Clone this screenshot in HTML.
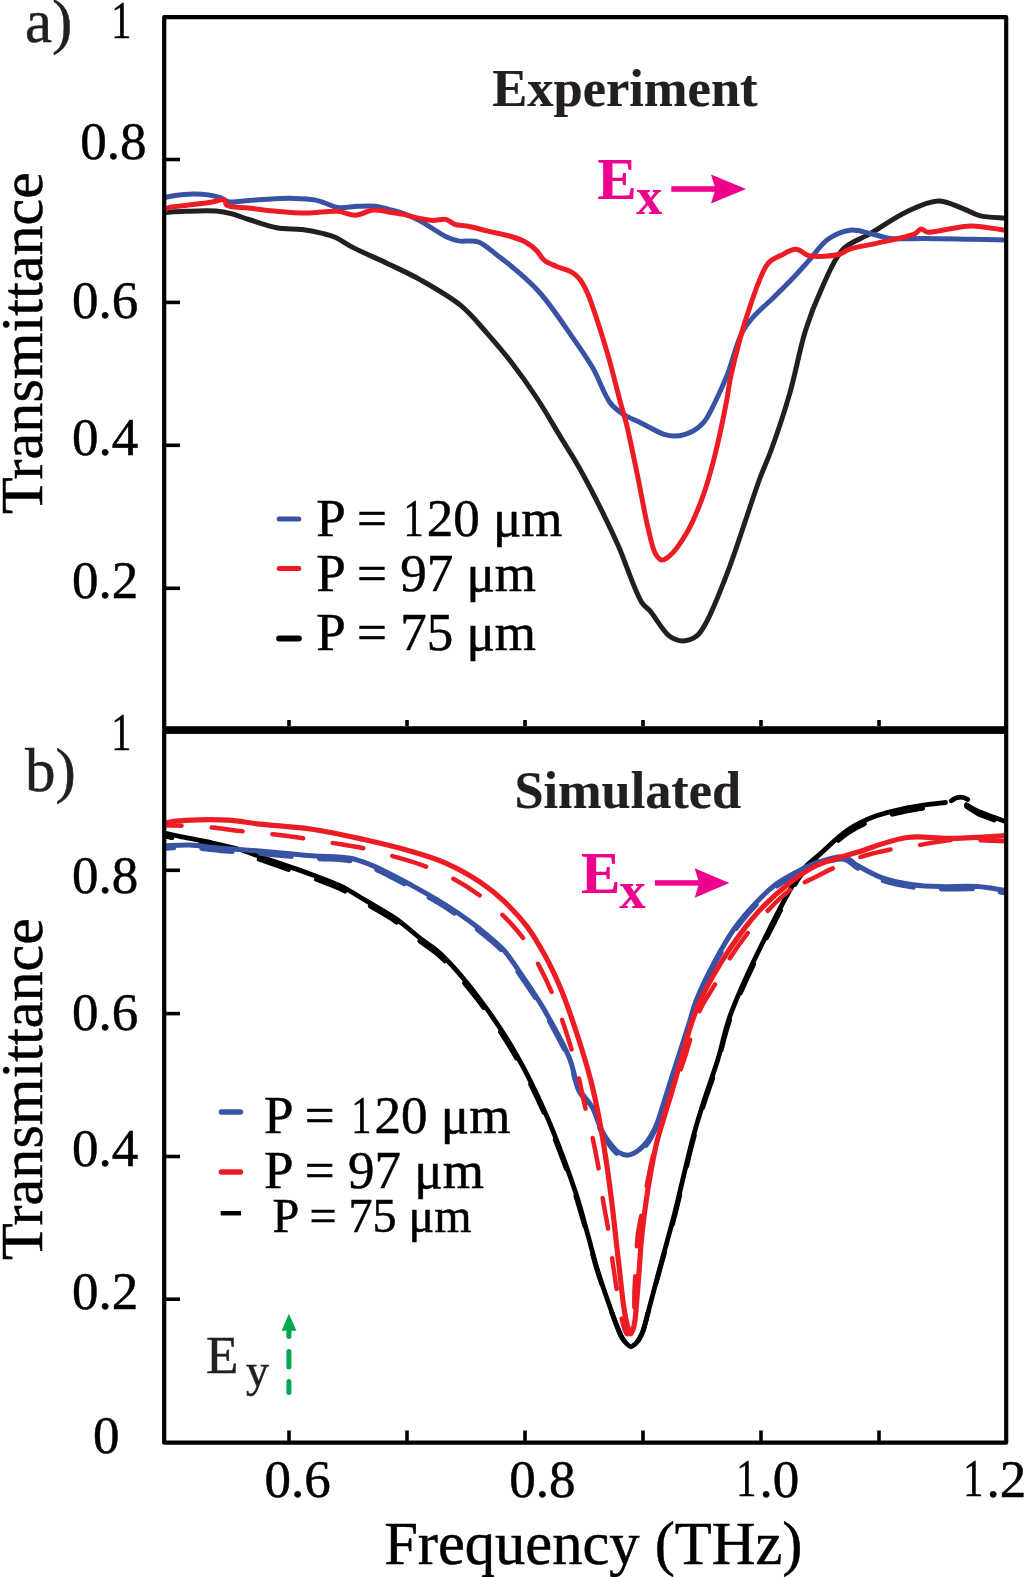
<!DOCTYPE html>
<html><head><meta charset="utf-8"><style>
html,body{margin:0;padding:0;background:#fff;}
body{width:1025px;height:1577px;overflow:hidden;font-family:"Liberation Serif", serif;}
svg{display:block;will-change:transform;}
</style></head><body>
<svg width="1025" height="1577" viewBox="0 0 1025 1577">
<defs>
<clipPath id="ca"><rect x="164" y="17" width="842" height="712"/></clipPath>
<clipPath id="cb"><rect x="164" y="730" width="842" height="712"/></clipPath>
</defs>
<g clip-path="url(#ca)">
<path d="M160.0,212.8 C168.5,212.3 176.5,211.6 185.4,211.3 C195.1,211.0 207.4,210.4 215.8,211.1 C221.8,211.6 225.8,212.3 231.0,213.6 C236.8,215.0 242.2,217.4 248.8,219.5 C257.0,222.1 267.5,226.1 276.7,227.8 C285.3,229.4 294.1,228.6 302.1,229.6 C309.3,230.5 316.5,232.0 322.4,233.4 C327.1,234.6 330.6,235.3 335.0,237.2 C340.6,239.6 345.8,243.8 352.8,247.4 C362.5,252.4 376.8,258.4 388.3,263.9 C399.2,269.1 408.9,273.4 420.0,279.6 C432.9,286.9 449.2,296.0 460.7,305.4 C470.8,313.7 477.8,322.8 486.1,332.1 C494.7,341.8 503.2,351.8 511.5,362.5 C520.2,373.7 528.8,385.8 536.8,398.0 C544.9,410.3 552.6,423.9 560.0,436.1 C566.8,447.3 572.8,456.3 579.5,468.3 C587.6,482.8 597.9,502.8 604.9,517.1 C610.3,528.0 613.5,534.9 618.5,546.3 C625.4,562.0 635.4,593.0 642.0,602.9 C644.8,607.1 646.8,607.2 649.8,610.7 C655.0,616.6 662.7,631.2 669.3,636.1 C673.8,639.4 678.4,641.0 682.9,641.0 C687.5,641.0 692.8,639.0 696.6,636.1 C700.7,633.0 702.8,628.7 706.3,622.4 C712.6,611.1 720.3,591.3 727.8,571.7 C737.9,545.4 751.8,500.0 760.0,478.0 C764.5,465.9 767.2,461.1 771.2,450.0 C776.9,434.4 784.3,412.5 789.9,392.9 C795.7,372.7 799.7,348.9 805.5,330.5 C810.3,315.4 815.0,303.2 821.1,289.9 C827.4,276.2 833.7,258.8 843.0,249.3 C850.6,241.5 860.2,239.5 869.8,233.9 C881.1,227.3 894.3,217.6 906.3,212.0 C917.0,207.0 928.1,201.2 938.0,201.0 C946.6,200.8 955.1,205.6 962.4,208.3 C968.7,210.6 972.8,213.9 979.5,215.6 C988.1,217.8 999.8,217.5 1010.0,218.5" fill="none" stroke="#231f20" stroke-width="5" stroke-linejoin="round" stroke-linecap="round"/>
<path d="M160.0,198.5 C165.1,197.5 169.9,196.1 175.2,195.4 C180.9,194.6 187.3,194.2 193.0,194.1 C198.3,194.0 203.4,194.2 208.2,194.9 C212.7,195.5 217.3,196.6 220.9,197.9 C223.8,199.0 225.2,201.0 228.5,201.7 C233.5,202.7 241.7,200.9 248.8,200.4 C256.8,199.9 266.2,199.0 274.2,198.7 C281.3,198.4 287.7,198.2 294.4,198.4 C301.2,198.6 309.1,198.9 314.7,199.9 C318.7,200.7 321.3,201.8 324.9,203.0 C328.9,204.3 332.8,206.8 337.6,207.5 C343.5,208.3 351.4,206.5 357.9,206.3 C364.0,206.1 370.2,205.7 375.6,206.3 C380.2,206.8 383.9,208.2 388.3,209.3 C393.2,210.5 398.4,211.7 403.5,213.5 C408.8,215.4 413.6,217.5 419.5,220.6 C427.5,224.8 439.4,233.6 446.8,237.0 C451.4,239.1 454.0,240.1 458.5,240.9 C464.1,241.9 471.8,239.7 478.0,241.8 C484.9,244.1 491.2,250.7 497.6,255.5 C504.2,260.4 510.4,265.3 517.1,271.1 C524.7,277.7 532.5,284.4 540.5,293.5 C550.8,305.3 563.1,323.8 572.4,337.1 C580.0,348.1 586.4,356.9 592.6,367.6 C599.1,378.8 604.2,395.1 610.4,403.1 C614.3,408.2 617.7,410.5 622.4,413.7 C627.9,417.4 635.3,420.1 642.0,423.4 C649.0,426.9 657.2,432.1 663.4,434.1 C667.8,435.5 670.8,436.3 675.1,436.1 C680.4,435.8 687.7,433.8 692.7,431.2 C697.3,428.8 700.9,425.8 704.4,421.5 C708.9,416.0 712.4,407.6 716.1,400.0 C720.1,391.9 723.7,383.9 727.5,374.2 C732.2,362.3 736.4,343.7 741.5,333.6 C744.9,326.9 747.8,323.4 752.4,318.0 C758.2,311.2 767.3,303.7 774.3,296.8 C780.8,290.4 787.1,284.2 793.0,278.0 C798.6,272.2 803.3,266.8 808.8,260.7 C815.0,253.9 820.9,244.1 828.3,239.0 C834.9,234.4 842.9,231.0 850.2,230.2 C857.1,229.4 864.4,232.3 871.1,233.7 C877.5,235.0 882.6,237.5 889.8,238.4 C899.5,239.6 911.9,238.3 924.2,238.4 C938.6,238.5 956.1,239.0 971.0,239.3 C984.6,239.6 997.0,239.8 1010.0,240.0" fill="none" stroke="#3953a4" stroke-width="5" stroke-linejoin="round" stroke-linecap="round"/>
<path d="M164.0,212.0 C165.2,210.7 165.7,209.0 167.6,208.0 C171.1,206.1 178.9,206.4 185.4,205.5 C193.1,204.5 203.5,203.3 210.7,202.2 C216.1,201.4 222.3,198.5 224.7,199.9 C226.2,200.8 224.9,203.7 226.5,205.0 C229.8,207.7 241.1,207.0 248.8,208.0 C257.0,209.1 265.2,210.3 274.2,211.1 C284.4,212.0 296.3,213.1 307.1,213.1 C317.5,213.1 328.8,210.6 337.6,211.3 C344.3,211.8 349.4,215.4 355.3,215.2 C361.2,215.0 367.4,210.6 373.1,210.1 C378.3,209.7 383.2,211.2 388.3,211.9 C393.4,212.6 398.4,213.3 403.5,214.4 C408.8,215.5 414.3,217.4 419.5,218.4 C424.2,219.3 428.7,220.3 433.2,220.4 C437.5,220.5 442.2,218.6 445.9,219.4 C449.2,220.1 451.2,223.2 454.6,224.3 C458.5,225.6 463.4,225.2 468.3,226.2 C474.3,227.4 481.1,229.5 487.8,231.1 C494.8,232.8 502.8,234.0 509.3,236.0 C515.0,237.7 520.2,239.3 524.9,241.8 C529.3,244.2 533.3,247.4 536.6,250.6 C539.7,253.6 541.2,257.8 544.4,260.4 C547.7,263.0 551.9,264.4 556.1,266.2 C560.9,268.3 567.6,269.6 571.7,272.1 C575.0,274.1 577.1,276.0 579.5,278.9 C582.4,282.5 585.1,287.9 587.3,292.6 C589.4,297.2 590.5,300.6 592.6,306.7 C596.5,317.9 603.2,338.8 607.9,354.9 C612.5,370.9 617.2,390.5 620.6,403.1 C622.8,411.3 624.2,415.0 626.3,423.4 C629.7,437.1 634.3,460.3 638.0,478.0 C641.5,494.7 644.4,512.9 647.8,526.8 C650.3,537.3 652.3,548.5 655.6,554.1 C657.4,557.1 659.2,559.6 661.5,560.0 C663.8,560.4 666.5,558.4 669.3,556.1 C674.4,551.8 681.6,541.6 686.8,532.7 C692.8,522.5 697.9,509.8 702.4,497.6 C707.0,485.1 710.4,472.9 714.1,458.5 C718.6,441.0 723.9,415.0 726.8,400.0 C728.6,390.7 728.5,386.8 730.6,377.3 C734.3,360.5 742.3,328.9 749.3,308.6 C755.1,291.8 761.0,271.8 768.1,263.4 C772.0,258.8 776.0,257.9 780.5,255.6 C785.3,253.1 791.3,249.1 796.2,249.3 C800.6,249.5 804.1,254.4 808.6,255.6 C813.4,256.8 819.1,256.5 824.3,256.2 C829.5,255.9 835.5,255.4 839.9,254.0 C843.5,252.9 845.1,250.7 849.2,249.3 C855.9,246.9 867.3,245.5 877.3,243.1 C888.9,240.4 907.7,237.1 914.8,233.7 C918.0,232.2 918.9,229.2 921.0,229.0 C923.0,228.8 924.5,231.7 927.3,232.1 C932.3,232.9 941.8,230.0 949.1,229.0 C956.4,228.0 962.7,225.9 971.0,225.9 C982.1,225.8 997.0,229.3 1010.0,231.0" fill="none" stroke="#ed1c24" stroke-width="5" stroke-linejoin="round" stroke-linecap="round"/>
</g>
<g clip-path="url(#cb)">
<path d="M160.0,832.0 C166.5,833.4 172.3,834.8 179.5,836.3 C188.3,838.1 199.1,840.1 208.8,842.2 C218.6,844.3 228.9,846.4 238.0,849.0 C246.3,851.4 252.2,853.9 261.5,857.1 C275.2,861.9 297.9,869.5 312.2,874.8 C322.9,878.8 330.9,881.3 340.0,885.7 C349.3,890.2 358.2,896.1 367.3,901.4 C376.4,906.8 385.7,911.6 394.6,917.8 C403.9,924.3 413.8,933.3 422.0,939.7 C428.6,944.8 433.3,947.0 440.0,953.3 C450.8,963.4 465.9,981.1 478.1,997.1 C491.4,1014.5 504.9,1034.8 516.1,1054.2 C526.9,1072.9 536.4,1092.9 544.6,1111.2 C552.0,1127.6 558.1,1143.8 563.7,1158.8 C568.7,1172.1 572.9,1183.9 577.0,1196.8 C581.2,1209.9 584.8,1224.1 588.4,1236.8 C591.6,1248.4 593.9,1258.3 597.5,1270.0 C601.6,1283.4 608.1,1301.7 612.0,1312.7 C614.5,1319.8 616.5,1325.3 618.5,1330.0 C619.9,1333.4 621.0,1336.1 622.5,1338.5 C623.7,1340.5 625.0,1342.1 626.5,1343.5 C627.9,1344.8 629.5,1346.8 631.0,1346.8 C632.5,1346.8 634.1,1345.0 635.5,1343.7 C637.0,1342.3 638.3,1340.5 639.5,1338.5 C640.8,1336.3 641.9,1334.1 643.0,1331.0 C644.7,1326.3 645.9,1320.4 648.0,1312.7 C651.5,1299.7 657.5,1276.7 662.0,1260.0 C666.1,1244.8 670.1,1230.9 673.8,1216.6 C677.4,1202.8 680.4,1189.3 683.7,1175.6 C687.0,1161.9 690.2,1147.6 693.8,1134.6 C697.1,1122.7 700.3,1112.3 704.1,1100.5 C708.2,1087.5 713.4,1073.9 717.7,1060.0 C722.2,1045.4 724.3,1031.6 730.5,1014.7 C738.9,991.6 753.9,960.1 766.4,935.2 C778.0,912.2 791.6,884.2 802.5,870.3 C808.7,862.4 813.4,860.0 820.0,854.1 C828.1,846.8 838.1,836.5 847.8,830.0 C856.7,824.0 866.1,819.7 875.6,816.1 C884.7,812.7 894.1,810.7 903.4,808.7 C912.6,806.7 923.4,805.2 931.2,804.1 C936.7,803.3 940.7,803.0 945.5,802.5" fill="none" stroke="#000" stroke-width="4.8" stroke-linejoin="round" stroke-linecap="round"/>
<path d="M966.5,804.8 C970.3,807.0 973.7,809.3 978.0,811.3 C982.9,813.6 989.0,815.4 994.6,817.5 C1000.3,819.6 1006.2,821.8 1012.0,824.0" fill="none" stroke="#000" stroke-width="4.8" stroke-linejoin="round" stroke-linecap="round"/>
<path d="M951.2,800.8 Q959.8,794.2 967.8,799.5" fill="none" stroke="#000" stroke-width="4.8" stroke-linecap="round"/>
<path d="M966.5,806.5 L978.5,814 L994.2,820" fill="none" stroke="#000" stroke-width="4.8" stroke-linecap="round"/>
<path d="M160.0,835.0 C166.5,836.4 172.3,837.8 179.5,839.3 C188.3,841.1 199.1,843.1 208.8,845.2 C218.6,847.3 228.9,849.4 238.0,852.0 C246.3,854.4 252.2,856.9 261.5,860.1 C275.2,864.9 297.9,872.5 312.2,877.8 C322.9,881.8 330.9,884.3 340.0,888.7 C349.3,893.2 358.2,899.1 367.3,904.4 C376.4,909.8 385.7,914.6 394.6,920.8 C403.9,927.3 413.8,936.3 422.0,942.7 C428.6,947.8 433.3,950.0 440.0,956.3" fill="none" stroke="#000" stroke-width="4.8" stroke-linecap="round" stroke-dasharray="31 29.5" stroke-dashoffset="18.7"/>
<path d="M440.0,956.3 C450.8,966.4 465.9,984.1 478.1,1000.1 C491.4,1017.5 504.9,1037.8 516.1,1057.2 C526.9,1075.9 536.4,1095.9 544.6,1114.2 C552.0,1130.6 558.1,1146.8 563.7,1161.8 C568.7,1175.1 572.9,1187.0 577.0,1199.8 C581.1,1212.7 584.8,1226.5 588.4,1239.0 C591.6,1250.3 593.9,1260.0 597.5,1271.4 C601.6,1284.5 608.1,1302.3 612.0,1313.1 C614.5,1320.0 616.5,1325.4 618.5,1330.0 C619.9,1333.3 621.0,1336.1 622.5,1338.5 C623.7,1340.5 625.0,1342.1 626.5,1343.5 C627.9,1344.8 629.5,1346.8 631.0,1346.8" fill="none" stroke="#000" stroke-width="4.8" stroke-linecap="round" stroke-dasharray="31 29.5" stroke-dashoffset="24.1"/>
<path d="M631.0,1346.8 C632.5,1346.8 634.1,1345.0 635.5,1343.7 C637.0,1342.3 638.3,1340.5 639.5,1338.5 C640.8,1336.3 641.9,1334.1 643.0,1331.0 C644.7,1326.4 645.9,1320.6 648.0,1313.1 C651.5,1300.4 657.5,1277.9 662.0,1261.6 C666.1,1246.8 670.1,1233.2 673.8,1219.2 C677.4,1205.6 680.4,1192.2 683.7,1178.6 C687.0,1165.0 690.2,1150.6 693.8,1137.6 C697.1,1125.7 700.3,1115.3 704.1,1103.5 C708.2,1090.5 713.4,1076.9 717.7,1063.0 C722.2,1048.4 724.3,1034.6 730.5,1017.7 C738.9,994.6 753.9,963.1 766.4,938.2 C778.0,915.2 791.6,887.2 802.5,873.3" fill="none" stroke="#000" stroke-width="4.8" stroke-linecap="round" stroke-dasharray="31 29.5" stroke-dashoffset="50.7"/>
<path d="M802.5,873.3 C808.7,865.4 813.4,863.0 820.0,857.1 C828.1,849.8 838.1,839.5 847.8,833.0 C856.7,827.0 866.1,822.7 875.6,819.1 C884.7,815.7 894.1,813.7 903.4,811.7 C912.6,809.7 923.4,808.2 931.2,807.1 C936.7,806.3 940.7,806.0 945.5,805.5" fill="none" stroke="#000" stroke-width="4.8" stroke-linecap="round" stroke-dasharray="31 29.5" stroke-dashoffset="11.8"/>
<path d="M160.0,848.6 C169.8,848.3 179.6,847.3 189.3,847.6 C199.1,847.9 207.9,849.6 218.5,850.5 C231.1,851.6 245.4,852.3 260.0,853.5 C276.4,854.8 296.2,857.0 312.2,858.3 C325.9,859.4 339.7,858.8 350.3,860.8 C358.2,862.3 364.1,864.8 370.6,867.3 C376.8,869.7 382.3,872.5 388.3,875.5 C394.8,878.7 401.1,882.1 408.3,886.0 C416.7,890.6 427.1,896.2 435.6,901.3" fill="none" stroke="#3953a4" stroke-width="4.8" stroke-linecap="round" stroke-dasharray="31 28" stroke-dashoffset="17.2"/>
<path d="M435.6,901.3 C443.2,905.8 449.6,909.9 456.8,914.8 C464.5,920.0 472.5,925.7 480.2,931.8 C488.2,938.2 496.9,945.1 503.7,952.5 C510.0,959.5 514.4,966.8 519.9,974.8 C526.1,983.7 533.0,993.9 538.9,1003.4 C544.4,1012.3 549.2,1020.8 554.2,1030.0 C559.4,1039.7 565.2,1050.2 569.4,1060.5 C573.4,1070.5 574.6,1082.2 578.9,1090.9 C582.5,1098.3 588.4,1103.1 592.2,1109.9 C596.1,1117.0 598.5,1126.5 601.7,1132.8 C604.1,1137.5 606.2,1140.8 609.0,1144.5 C611.8,1148.2 615.1,1152.7 618.7,1154.9 C621.7,1156.7 625.1,1157.9 628.3,1157.6" fill="none" stroke="#3953a4" stroke-width="4.8" stroke-linecap="round" stroke-dasharray="31 28" stroke-dashoffset="8.7"/>
<path d="M628.3,1157.6 C631.9,1157.3 636.0,1154.6 639.2,1152.2 C642.4,1149.9 644.9,1147.0 647.5,1143.5 C650.7,1139.2 653.8,1133.3 656.3,1127.6 C659.0,1121.5 660.4,1115.4 662.9,1107.8 C666.2,1097.5 670.3,1084.3 674.4,1071.5 C679.0,1057.0 685.2,1038.1 689.2,1025.4 C692.0,1016.4 693.1,1010.9 696.4,1002.5 C700.8,991.4 707.8,977.1 714.2,965.0 C720.5,953.2 727.4,941.0 734.6,930.8 C741.1,921.6 748.0,913.7 755.1,906.2 C761.7,899.2 768.5,892.5 775.6,887.1 C782.2,882.1 789.2,878.5 796.1,874.8 C802.8,871.2 809.1,867.7 816.6,865.2 C824.9,862.4 836.8,858.1 844.1,859.4 C849.5,860.4 851.9,864.9 857.1,867.8 C864.2,871.8 873.9,877.5 883.0,880.7 C892.4,884.0 902.9,885.8 912.7,887.2 C922.1,888.5 930.6,888.8 940.5,889.1 C952.0,889.5 965.7,888.3 977.6,889.1 C988.8,889.9 999.2,892.2 1010.0,893.7" fill="none" stroke="#3953a4" stroke-width="4.8" stroke-linecap="round" stroke-dasharray="31 28" stroke-dashoffset="37.0"/>
<path d="M160.0,846.1 C169.8,845.8 179.6,844.8 189.3,845.1 C199.1,845.4 207.9,847.1 218.5,848.0 C231.1,849.1 245.4,849.8 260.0,851.0 C276.4,852.3 296.2,854.5 312.2,855.8 C325.9,856.9 339.7,856.3 350.3,858.3 C358.2,859.8 364.1,862.3 370.6,864.8 C376.8,867.2 382.3,870.0 388.3,873.0 C394.8,876.2 401.1,879.6 408.3,883.5 C416.7,888.1 427.1,893.7 435.6,898.8 C443.2,903.3 449.6,907.4 456.8,912.3 C464.5,917.5 472.5,923.2 480.2,929.3 C488.2,935.7 496.9,942.6 503.7,950.0 C510.0,957.0 514.4,964.3 519.9,972.3 C526.1,981.2 533.0,991.4 538.9,1000.9 C544.4,1009.8 549.2,1018.3 554.2,1027.5 C559.4,1037.2 565.2,1047.7 569.4,1058.0 C573.4,1068.0 574.6,1079.7 578.9,1088.4 C582.5,1095.8 588.4,1100.6 592.2,1107.4 C596.1,1114.5 598.5,1124.0 601.7,1130.3 C604.1,1135.0 606.2,1138.3 609.0,1142.0 C611.8,1145.7 615.1,1150.2 618.7,1152.4 C621.7,1154.2 625.1,1155.4 628.3,1155.1 C631.9,1154.8 636.0,1152.1 639.2,1149.7 C642.4,1147.4 644.9,1144.5 647.5,1141.0 C650.7,1136.7 653.8,1130.8 656.3,1125.1 C659.0,1119.0 660.4,1112.9 662.9,1105.3 C666.2,1095.0 670.3,1081.8 674.4,1069.0 C679.0,1054.5 685.2,1035.6 689.2,1022.9 C692.0,1013.9 693.1,1008.4 696.4,1000.0 C700.8,988.9 707.8,974.6 714.2,962.5 C720.5,950.7 727.4,938.5 734.6,928.3 C741.1,919.1 748.0,911.2 755.1,903.7 C761.7,896.7 768.5,890.0 775.6,884.6 C782.2,879.6 789.2,876.0 796.1,872.3 C802.8,868.7 809.1,865.2 816.6,862.7 C824.9,859.9 836.8,855.6 844.1,856.9 C849.5,857.9 851.9,862.4 857.1,865.3 C864.2,869.3 873.9,875.0 883.0,878.2 C892.4,881.5 902.9,883.3 912.7,884.7 C922.1,886.0 930.6,886.3 940.5,886.6 C952.0,887.0 965.7,885.8 977.6,886.6 C988.8,887.4 999.2,889.7 1010.0,891.2" fill="none" stroke="#3953a4" stroke-width="5" stroke-linejoin="round" stroke-linecap="round"/>
<path d="M160.0,824.5 C165.2,823.4 169.8,822.0 175.6,821.2 C182.6,820.3 190.8,820.0 199.0,819.8 C208.2,819.6 218.4,819.5 228.3,820.2 C238.7,820.9 248.1,822.8 260.0,824.1 C275.2,825.8 295.0,826.7 312.2,829.2 C329.3,831.7 346.4,835.6 363.0,839.3 C379.0,842.9 395.6,846.8 410.0,851.0 C422.6,854.7 433.6,857.8 445.1,862.8 C457.0,868.0 469.9,875.2 480.2,882.1 C489.1,888.0 496.1,893.8 503.7,900.9 C511.8,908.5 520.1,917.3 527.1,926.6 C534.2,936.0 540.0,946.4 545.8,957.1 C551.8,968.2 557.0,979.5 562.2,992.2 C568.0,1006.5 573.7,1023.9 578.6,1039.0 C583.1,1053.1 587.2,1066.3 590.7,1080.0 C594.2,1093.6 597.0,1107.3 599.6,1121.0 C602.2,1134.6 604.3,1148.3 606.4,1162.0 C608.4,1175.7 610.2,1189.3 611.9,1203.0 C613.6,1216.7 615.1,1231.9 616.5,1244.0 C617.6,1253.7 618.4,1260.7 619.5,1270.0 C620.7,1280.8 622.0,1294.8 623.5,1305.0 C624.7,1312.9 626.0,1320.7 627.5,1326.0 C628.4,1329.3 629.4,1334.0 630.5,1334.0 C631.6,1334.0 633.1,1329.5 634.0,1326.0 C635.6,1319.9 636.0,1309.0 636.8,1300.0 C637.7,1290.4 638.4,1280.0 639.2,1270.0 C640.0,1260.0 640.4,1250.5 641.4,1240.0 C642.5,1228.3 644.2,1215.1 645.9,1203.0 C647.5,1191.4 649.4,1179.5 651.4,1168.8 C653.2,1159.2 654.7,1150.6 657.0,1141.5 C659.3,1132.4 662.1,1123.8 665.0,1114.2 C668.2,1103.4 671.6,1092.8 675.3,1080.0 C680.0,1063.8 686.1,1039.7 691.0,1025.0 C694.3,1015.0 696.3,1009.0 700.5,1000.0 C705.8,988.6 713.9,974.2 721.0,962.5 C727.6,951.7 734.4,941.8 741.5,932.4 C748.1,923.6 754.4,915.7 762.0,907.8 C770.2,899.3 779.9,890.4 789.3,883.2 C798.1,876.4 806.2,870.4 816.6,865.5 C828.5,859.8 842.9,856.7 857.1,852.3 C872.9,847.4 890.9,839.7 907.1,837.5 C921.7,835.5 934.3,838.6 949.7,838.4 C968.1,838.2 989.9,836.5 1010.0,835.5" fill="none" stroke="#ed1c24" stroke-width="5.2" stroke-linejoin="round" stroke-linecap="round"/>
<path d="M150.0,825.0 C158.3,825.2 165.9,825.1 175.0,825.5 C186.1,825.9 199.9,826.5 211.7,827.6 C222.8,828.6 233.4,830.4 243.9,831.5 C253.8,832.6 262.9,833.1 272.9,834.2 C283.6,835.4 295.4,837.0 305.9,838.6 C315.6,840.0 324.2,841.5 333.8,843.1 C344.0,844.8 355.3,846.4 365.5,848.7 C375.1,850.9 383.9,853.5 393.4,856.3 C403.4,859.2 414.2,862.2 424.0,865.8" fill="none" stroke="#ed1c24" stroke-width="4.5" stroke-linecap="round" stroke-dasharray="31 30" stroke-dashoffset="60.2"/>
<path d="M424.0,865.8 C433.4,869.3 442.1,872.8 451.0,877.5 C460.5,882.5 470.5,888.7 479.1,895.0 C487.2,900.9 494.2,906.9 501.3,913.8 C508.7,920.9 516.3,928.9 522.4,937.2 C528.3,945.3 532.8,953.9 537.6,962.9 C542.6,972.2 547.5,982.4 551.7,992.2 C555.7,1001.6 558.9,1010.8 562.2,1020.3 C565.5,1029.9 568.8,1039.9 571.6,1049.6 C574.3,1059.0 576.6,1068.5 578.8,1077.8 C580.9,1086.8 582.4,1095.1 584.6,1104.6 C587.0,1115.3 590.4,1127.5 592.8,1138.7 C595.1,1149.4 597.2,1159.8 598.9,1170.2 C600.6,1180.3 601.4,1190.2 603.0,1200.2 C604.6,1210.4 606.9,1220.7 608.5,1231.0 C610.1,1241.2 611.2,1251.5 612.6,1261.7 C614.1,1272.0 615.6,1282.5 617.2,1292.5 C618.7,1301.9 620.0,1312.4 622.0,1320.0 C623.5,1325.5 624.6,1332.9 627.0,1334.0" fill="none" stroke="#ed1c24" stroke-width="4.5" stroke-linecap="round" stroke-dasharray="31 30" stroke-dashoffset="28.8"/>
<path d="M627.0,1334.0 C628.4,1334.6 630.7,1333.8 632.0,1332.0 C635.7,1326.9 633.8,1302.5 634.5,1290.0 C635.1,1280.0 635.4,1272.1 636.0,1263.0 C636.6,1253.6 636.7,1243.9 637.9,1234.4 C639.1,1224.8 641.3,1216.4 643.3,1205.7 C645.8,1192.2 648.4,1175.5 652.0,1160.0 C655.8,1143.6 660.7,1126.6 666.0,1110.0 C671.4,1093.2 678.3,1076.7 684.0,1060.0 C689.6,1043.4 694.0,1023.4 700.0,1010.0 C704.4,1000.2 709.5,993.9 714.2,985.7 C719.0,977.4 723.3,968.7 728.5,960.4 C733.8,952.0 739.6,943.5 745.6,935.8 C751.4,928.3 757.1,921.8 764.0,914.6 C771.7,906.5 781.5,896.0 790.0,890.0" fill="none" stroke="#ed1c24" stroke-width="4.5" stroke-linecap="round" stroke-dasharray="31 30" stroke-dashoffset="30.3"/>
<path d="M790.0,890.0 C796.7,885.2 802.6,883.4 809.8,879.8 C818.3,875.6 828.4,870.2 837.6,866.2 C846.3,862.4 854.5,858.8 863.6,856.0 C873.0,853.0 883.5,850.9 893.2,849.0 C902.3,847.2 910.9,846.3 920.1,844.9 C929.7,843.4 940.3,840.9 949.7,840.2 C958.1,839.5 965.0,840.0 973.8,840.2 C984.6,840.4 997.9,841.1 1010.0,841.5" fill="none" stroke="#ed1c24" stroke-width="4.5" stroke-linecap="round" stroke-dasharray="31 30" stroke-dashoffset="44.1"/>
</g>
<path d="M164.2,17.2 H1006.2 V1442.7 H164.2 Z" fill="none" stroke="#000" stroke-width="4.2" stroke-linejoin="round"/>
<rect x="164" y="726.2" width="842" height="7.7" fill="#000"/>
<line x1="166" y1="159.5" x2="180" y2="159.5" stroke="#000" stroke-width="3.6"/>
<line x1="166" y1="302.4" x2="180" y2="302.4" stroke="#000" stroke-width="3.6"/>
<line x1="166" y1="445.3" x2="180" y2="445.3" stroke="#000" stroke-width="3.6"/>
<line x1="166" y1="588.3" x2="180" y2="588.3" stroke="#000" stroke-width="3.6"/>
<line x1="166" y1="870.3" x2="180" y2="870.3" stroke="#000" stroke-width="3.6"/>
<line x1="166" y1="1013.6" x2="180" y2="1013.6" stroke="#000" stroke-width="3.6"/>
<line x1="166" y1="1156.5" x2="180" y2="1156.5" stroke="#000" stroke-width="3.6"/>
<line x1="166" y1="1299.2" x2="180" y2="1299.2" stroke="#000" stroke-width="3.6"/>
<line x1="289.0" y1="1441" x2="289.0" y2="1430.5" stroke="#000" stroke-width="3.6"/>
<line x1="289.0" y1="726" x2="289.0" y2="720" stroke="#000" stroke-width="3.6"/>
<line x1="407.0" y1="1441" x2="407.0" y2="1430.5" stroke="#000" stroke-width="3.6"/>
<line x1="407.0" y1="726" x2="407.0" y2="720" stroke="#000" stroke-width="3.6"/>
<line x1="525.0" y1="1441" x2="525.0" y2="1430.5" stroke="#000" stroke-width="3.6"/>
<line x1="525.0" y1="726" x2="525.0" y2="720" stroke="#000" stroke-width="3.6"/>
<line x1="643.0" y1="1441" x2="643.0" y2="1430.5" stroke="#000" stroke-width="3.6"/>
<line x1="643.0" y1="726" x2="643.0" y2="720" stroke="#000" stroke-width="3.6"/>
<line x1="761.0" y1="1441" x2="761.0" y2="1430.5" stroke="#000" stroke-width="3.6"/>
<line x1="761.0" y1="726" x2="761.0" y2="720" stroke="#000" stroke-width="3.6"/>
<line x1="879.0" y1="1441" x2="879.0" y2="1430.5" stroke="#000" stroke-width="3.6"/>
<line x1="879.0" y1="726" x2="879.0" y2="720" stroke="#000" stroke-width="3.6"/>
<text x="108.00" y="38.0" font-family="Liberation Serif" font-size="53" fill="#000" stroke="#000" stroke-width="0.5" transform="matrix(0.76,0,0,1,29.27,0)">1</text>
<text x="80.3" y="159.3" font-family="Liberation Serif" font-size="53" font-weight="normal" fill="#000" stroke="#000" stroke-width="0.5">0.8</text>
<text x="71.9" y="318.3" font-family="Liberation Serif" font-size="53" font-weight="normal" fill="#000" stroke="#000" stroke-width="0.5">0.6</text>
<text x="71.9" y="455.0" font-family="Liberation Serif" font-size="53" font-weight="normal" fill="#000" stroke="#000" stroke-width="0.5">0.4</text>
<text x="71.9" y="598.0" font-family="Liberation Serif" font-size="53" font-weight="normal" fill="#000" stroke="#000" stroke-width="0.5">0.2</text>
<text x="108.00" y="750.0" font-family="Liberation Serif" font-size="53" fill="#000" stroke="#000" stroke-width="0.5" transform="matrix(0.76,0,0,1,29.27,0)">1</text>
<text x="71.9" y="893.0" font-family="Liberation Serif" font-size="53" font-weight="normal" fill="#000" stroke="#000" stroke-width="0.5">0.8</text>
<text x="71.9" y="1030.0" font-family="Liberation Serif" font-size="53" font-weight="normal" fill="#000" stroke="#000" stroke-width="0.5">0.6</text>
<text x="71.9" y="1166.0" font-family="Liberation Serif" font-size="53" font-weight="normal" fill="#000" stroke="#000" stroke-width="0.5">0.4</text>
<text x="71.9" y="1309.0" font-family="Liberation Serif" font-size="53" font-weight="normal" fill="#000" stroke="#000" stroke-width="0.5">0.2</text>
<text x="93.0" y="1452.5" font-family="Liberation Serif" font-size="53" font-weight="normal" fill="#000" stroke="#000" stroke-width="0.5">0</text>
<text x="264.6" y="1496.5" font-family="Liberation Serif" font-size="53" font-weight="normal" fill="#000" stroke="#000" stroke-width="0.5">0.6</text>
<text x="509.2" y="1496.5" font-family="Liberation Serif" font-size="53" font-weight="normal" fill="#000" stroke="#000" stroke-width="0.5">0.8</text>
<text x="733.00" y="1496.5" font-family="Liberation Serif" font-size="53" fill="#000" stroke="#000" stroke-width="0.5" transform="matrix(0.76,0,0,1,179.27,0)">1</text>
<text x="759.50" y="1496.5" font-family="Liberation Serif" font-size="53" fill="#000" stroke="#000" stroke-width="0.5" xml:space="preserve">.0</text>
<text x="960.00" y="1496.5" font-family="Liberation Serif" font-size="53" fill="#000" stroke="#000" stroke-width="0.5" transform="matrix(0.76,0,0,1,233.75,0)">1</text>
<text x="986.50" y="1496.5" font-family="Liberation Serif" font-size="53" fill="#000" stroke="#000" stroke-width="0.5" xml:space="preserve">.2</text>
<text x="384.2" y="1564.0" font-family="Liberation Serif" font-size="60.5" font-weight="normal" fill="#000" stroke="#000" stroke-width="0.5">Frequency (THz)</text>
<text transform="translate(41.9,514.1) rotate(-90)" font-family="Liberation Serif" font-size="60.2" fill="#000" stroke="#000" stroke-width="0.5">Transmittance</text>
<text transform="translate(41.9,1260.1) rotate(-90)" font-family="Liberation Serif" font-size="60.2" fill="#000" stroke="#000" stroke-width="0.5">Transmittance</text>
<text x="25.0" y="42.0" font-family="Liberation Serif" font-size="61" font-weight="normal" fill="#231f20" stroke="#231f20" stroke-width="0.5">a)</text>
<text x="25.0" y="791.0" font-family="Liberation Serif" font-size="61" font-weight="normal" fill="#231f20" stroke="#231f20" stroke-width="0.5">b)</text>
<text x="492.2" y="105.7" font-family="Liberation Serif" font-size="52.5" font-weight="bold" fill="#231f20" stroke="#231f20" stroke-width="0.2">Experiment</text>
<text x="514.4" y="808.2" font-family="Liberation Serif" font-size="52.3" font-weight="bold" fill="#231f20" stroke="#231f20" stroke-width="0.2">Simulated</text>
<text x="597.3" y="199.4" font-family="Liberation Serif" font-size="59" font-weight="bold" fill="#ec008c" stroke="#ec008c" stroke-width="0.2">E</text>
<text x="636.2" y="213.8" font-family="Liberation Serif" font-size="52" font-weight="bold" fill="#ec008c" stroke="#ec008c" stroke-width="0.2">x</text>
<rect x="671.3" y="186.2" width="45" height="5.6" fill="#ec008c"/>
<path d="M711,174.5 L746,189 L711,203.4 L715.5,189 Z" fill="#ec008c"/>
<text x="580.9" y="893.4" font-family="Liberation Serif" font-size="59" font-weight="bold" fill="#ec008c" stroke="#ec008c" stroke-width="0.2">E</text>
<text x="619.6" y="907.7" font-family="Liberation Serif" font-size="52" font-weight="bold" fill="#ec008c" stroke="#ec008c" stroke-width="0.2">x</text>
<rect x="654.9" y="880.2" width="44" height="5.5" fill="#ec008c"/>
<path d="M694.7,868.2 L729.4,882.9 L694.7,897.7 L699.2,882.9 Z" fill="#ec008c"/>
<line x1="279.2" y1="519.1" x2="298.8" y2="519.1" stroke="#3953a4" stroke-width="5" stroke-linecap="round"/>
<line x1="279.2" y1="568.4" x2="298.8" y2="568.4" stroke="#ed1c24" stroke-width="5" stroke-linecap="round"/>
<line x1="279.2" y1="638.6" x2="298.8" y2="638.6" stroke="#000" stroke-width="6" stroke-linecap="round"/>
<text x="316.30" y="535.9" font-family="Liberation Serif" font-size="53" fill="#000" stroke="#000" stroke-width="0.5" xml:space="preserve">P = </text>
<text x="400.20" y="535.9" font-family="Liberation Serif" font-size="53" fill="#000" stroke="#000" stroke-width="0.5" transform="matrix(0.76,0,0,1,99.40,0)">1</text>
<text x="426.70" y="535.9" font-family="Liberation Serif" font-size="53" fill="#000" stroke="#000" stroke-width="0.5" xml:space="preserve">20 μm</text>
<text x="316.3" y="590.7" font-family="Liberation Serif" font-size="53" font-weight="normal" fill="#000" stroke="#000" stroke-width="0.5">P = 97 μm</text>
<text x="316.3" y="650.2" font-family="Liberation Serif" font-size="53" font-weight="normal" fill="#000" stroke="#000" stroke-width="0.5">P = 75 μm</text>
<line x1="221.4" y1="1112.1" x2="240.4" y2="1112.1" stroke="#3953a4" stroke-width="5.5" stroke-linecap="round"/>
<line x1="221.4" y1="1171.9" x2="240.4" y2="1171.9" stroke="#ed1c24" stroke-width="5.5" stroke-linecap="round"/>
<line x1="220.7" y1="1213.2" x2="241" y2="1213.2" stroke="#000" stroke-width="4.5"/>
<text x="264.10" y="1132.9" font-family="Liberation Serif" font-size="53" fill="#000" stroke="#000" stroke-width="0.5" xml:space="preserve">P = </text>
<text x="348.00" y="1132.9" font-family="Liberation Serif" font-size="53" fill="#000" stroke="#000" stroke-width="0.5" transform="matrix(0.76,0,0,1,86.87,0)">1</text>
<text x="374.50" y="1132.9" font-family="Liberation Serif" font-size="53" fill="#000" stroke="#000" stroke-width="0.5" xml:space="preserve">20 μm</text>
<text x="264.1" y="1187.6" font-family="Liberation Serif" font-size="53" font-weight="normal" fill="#000" stroke="#000" stroke-width="0.5">P = 97 μm</text>
<text x="272.5" y="1232.0" font-family="Liberation Serif" font-size="48" font-weight="normal" fill="#000" stroke="#000" stroke-width="0.5">P = 75 μm</text>
<text x="206.0" y="1373.3" font-family="Liberation Serif" font-size="53" font-weight="normal" fill="#231f20" stroke="#231f20" stroke-width="0.5">E</text>
<text x="246.0" y="1386.0" font-family="Liberation Serif" font-size="46" font-weight="normal" fill="#231f20" stroke="#231f20" stroke-width="0.5">y</text>
<path d="M288.9,1313.7 L296.5,1330.7 L281.6,1330.7 Z" fill="#00a651"/>
<path d="M288.9,1330 V1336.5 M288.9,1351.5 V1367 M288.9,1381.5 V1392.5" stroke="#00a651" stroke-width="5" stroke-linecap="round"/>
</svg>
</body></html>
